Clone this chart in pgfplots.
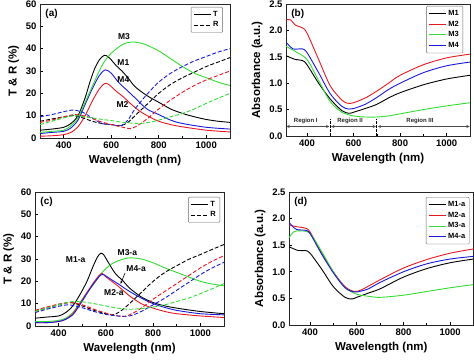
\documentclass[border=0pt]{standalone}
\usepackage{fontspec}
\setmainfont{Liberation Sans}
\usepackage{pgfplots}
\pgfplotsset{compat=1.18}
\usetikzlibrary{arrows.meta}
\definecolor{mred}{RGB}{230,25,35}
\definecolor{mgreen}{RGB}{50,220,50}
\definecolor{mblue}{RGB}{25,25,220}
\tikzset{
 rdash/.style={dash pattern=on 4pt off 2pt},
 lab/.style={font=\bfseries\fontsize{8.5}{9}\selectfont},
 reg/.style={font=\bfseries\fontsize{6}{6.5}\selectfont, black!85},
}
\pgfplotsset{
 panel/.style={
  scale only axis, anchor=south west,
  xmin=300, xmax=1100,
  xtick={400,600,800,1000}, minor xtick={300,500,700,900,1100},
  tick align=inside, xtick pos=bottom, ytick pos=left,
  major tick length=3pt, minor tick length=2pt,
  axis line style={black!85, line width=0.8pt},
  tick style={black, line width=0.6pt},
  ticklabel style={font=\bfseries\fontsize{9.5}{11}\selectfont},
  label style={font=\bfseries\fontsize{11.5}{13}\selectfont},
  xlabel={Wavelength (nm)},
  /pgf/number format/assume math mode=true,
  /pgf/number format/1000 sep={},
  legend style={font=\bfseries\fontsize{7.5}{8}\selectfont, rounded corners=1pt, draw=black!60, inner sep=2pt, row sep=0pt},
  legend cell align=left,
  every axis plot/.append style={line width=0.9pt, smooth, tension=0.5},
 },
 Tpanel/.style={ymin=0, ymax=60, ytick={0,10,...,60}, ylabel={T \& R (\%)}},
 Apanel/.style={ymin=0, ymax=2.5, ytick={0,0.5,...,2.5}, ylabel={Absorbance (a.u.)},
   yticklabel style={/pgf/number format/fixed, /pgf/number format/fixed zerofill, /pgf/number format/precision=1}},
}
\begin{document}
\begin{tikzpicture}
\useasboundingbox (0,0) rectangle (474pt,364pt);
% ---------------- (a)
\begin{axis}[panel, Tpanel, at={(40pt,226pt)}, width=190pt, height=134pt,
  legend style={at={(0.962,0.978)}, anchor=north east}]
\addlegendimage{black, line width=0.9pt}
\addlegendentry{T}
\addlegendimage{black, line width=0.9pt, rdash}
\addlegendentry{R}
% T
\addplot[black, forget plot] coordinates {(300,3.5)(350,4)(400,4.8)(430,6.5)(460,10)(490,18)(510,25)(530,31)(550,35)(570,37)(585,36.5)(600,35)(620,32.5)(645,30)(670,27)(700,23)(750,19)(800,16)(850,13)(900,11)(950,9.5)(1000,8.3)(1050,7.5)(1100,7)};
\addplot[mred, forget plot] coordinates {(300,0.8)(350,1)(400,1.5)(430,2.5)(460,5)(490,10)(520,16.5)(550,22)(575,24.5)(595,23.5)(620,21)(650,18.5)(680,15.5)(720,12)(760,9.5)(800,7.5)(850,6)(900,5)(1000,3.5)(1100,2.7)};
\addplot[mblue, forget plot] coordinates {(300,2)(350,2.5)(400,3)(430,4.5)(460,8)(490,15)(520,22)(550,28)(575,30.5)(600,29)(630,25)(660,22)(700,18)(750,13)(800,10.5)(850,8)(900,6.5)(1000,4.8)(1100,4)};
\addplot[mgreen, forget plot] coordinates {(300,2.5)(350,3)(400,3.5)(430,5.5)(460,9)(490,16)(520,23)(545,29)(570,34)(600,38)(650,42)(690,43)(740,42)(800,39)(850,35.5)(900,32)(950,29)(1000,27)(1050,25)(1100,23.5)};
% R
\addplot[black, rdash, forget plot] coordinates {(300,7.5)(350,8.5)(400,9.5)(440,10)(480,9)(520,7.5)(560,6.5)(600,6)(640,5.5)(670,7)(700,10)(750,15)(800,20)(850,24)(900,27)(950,29.5)(1000,32)(1050,34)(1100,36)};
\addplot[mblue, rdash, forget plot] coordinates {(300,9.5)(350,10.5)(400,11.8)(440,12.5)(480,11.5)(520,9)(560,6.5)(600,6)(640,5.5)(670,8)(700,13)(750,19.5)(800,25)(850,29)(900,32)(950,34.5)(1000,36.5)(1050,38.5)(1100,40)};
\addplot[mred, rdash, forget plot] coordinates {(300,7)(350,8)(400,9.5)(450,10.5)(500,9.5)(550,7.5)(600,6)(650,4.8)(680,4.2)(710,5.5)(750,8.5)(800,13)(850,17)(900,20.5)(950,23.5)(1000,26)(1050,28)(1100,30)};
\addplot[mgreen, rdash, forget plot] coordinates {(300,6)(350,7.5)(400,9)(440,10)(490,9.5)(550,8.5)(600,7.8)(650,7)(720,6.5)(760,7)(800,8)(850,9.5)(900,11)(950,13)(1000,15.5)(1050,17.8)(1100,20)};
\node[lab] at (axis cs:654,45.2) {M3};
\node[lab] at (axis cs:651,33.7) {M1};
\node[lab] at (axis cs:651,26.1) {M4};
\node[lab] at (axis cs:647,14.9) {M2};
\node[font=\bfseries\fontsize{10}{11}\selectfont, anchor=north west] at (rel axis cs:0.01,0.985) {(a)};
\end{axis}
% ---------------- (b)
\begin{axis}[panel, Apanel, xmin=310, at={(286pt,228pt)}, width=184pt, height=132pt,
  legend style={at={(0.962,0.985)}, anchor=north east}]
\addplot[black] coordinates {(310,1.52)(350,1.45)(380,1.43)(400,1.35)(450,1.0)(500,0.7)(550,0.48)(580,0.43)(600,0.45)(650,0.52)(700,0.6)(750,0.72)(800,0.82)(900,0.97)(1000,1.08)(1100,1.15)};
\addlegendentry{M1}
\addplot[mred] coordinates {(310,2.2)(330,2.2)(350,2.1)(380,2.05)(400,1.95)(450,1.45)(500,0.95)(550,0.68)(575,0.62)(600,0.63)(650,0.72)(700,0.85)(750,1.0)(800,1.15)(900,1.35)(1000,1.48)(1100,1.55)};
\addlegendentry{M2}
\addplot[mgreen] coordinates {(310,1.7)(350,1.6)(400,1.45)(450,1.05)(500,0.65)(550,0.45)(600,0.38)(650,0.36)(700,0.36)(750,0.38)(800,0.42)(900,0.5)(1000,0.57)(1100,0.63)};
\addlegendentry{M3}
\addplot[mblue] coordinates {(310,1.78)(340,1.65)(380,1.65)(400,1.58)(450,1.2)(500,0.8)(550,0.56)(580,0.51)(600,0.52)(650,0.6)(700,0.73)(750,0.88)(800,1.0)(900,1.2)(1000,1.33)(1100,1.4)};
\addlegendentry{M4}
\draw[black, dash pattern=on 2.5pt off 1.5pt, line width=0.7pt] (axis cs:500,0) -- (axis cs:500,0.32);
\draw[black, dash pattern=on 2.5pt off 1.5pt, line width=0.7pt] (axis cs:700,0) -- (axis cs:700,0.32);
\draw[black!70, <->, >=stealth, line width=0.5pt] (axis cs:312,0.18) -- (axis cs:496,0.18);
\draw[black!70, <->, >=stealth, line width=0.5pt] (axis cs:504,0.18) -- (axis cs:696,0.18);
\draw[black!70, <->, >=stealth, line width=0.5pt] (axis cs:704,0.18) -- (axis cs:1098,0.18);
\node[reg] at (axis cs:395,0.28) {Region I};
\node[reg] at (axis cs:585,0.28) {Region II};
\node[reg] at (axis cs:885,0.28) {Region III};
\node[font=\bfseries\fontsize{10}{11}\selectfont, anchor=north west] at (rel axis cs:0.01,0.985) {(b)};
\end{axis}
% ---------------- (c)
\begin{axis}[panel, Tpanel, at={(35pt,38pt)}, width=189pt, height=134pt,
  legend style={at={(0.979,0.963)}, anchor=north east}]
\addlegendimage{black, line width=0.9pt}
\addlegendentry{T}
\addlegendimage{black, line width=0.9pt, rdash}
\addlegendentry{R}
\addplot[black, forget plot] coordinates {(300,3.5)(350,4)(400,4.5)(430,6)(460,9)(490,14)(520,20)(545,26.5)(565,31)(578,32.5)(590,32)(610,28.5)(640,23.5)(670,20.5)(700,17)(750,13)(800,10.5)(850,9)(900,8)(1000,6.5)(1100,5.5)};
\addplot[mgreen, forget plot] coordinates {(300,2)(350,2)(400,2.5)(430,3.5)(460,6)(490,10.5)(520,15)(550,19)(580,23.5)(620,27.5)(660,29.5)(700,30.5)(750,30)(800,28.3)(850,26)(900,24)(950,22)(1000,20)(1050,18.8)(1100,18)};
\addplot[mred, forget plot] coordinates {(300,1.5)(350,1.5)(400,2)(430,3)(460,5.5)(490,10)(520,15)(545,19)(570,22.5)(585,23.5)(600,22)(650,18)(700,13.5)(750,10)(800,8)(850,6.5)(900,5.5)(1000,4.5)(1100,3.8)};
\addplot[mblue, forget plot] coordinates {(300,1.5)(350,1.5)(400,2)(430,3)(460,5)(490,9.5)(520,14.5)(545,18.5)(575,22.5)(590,23)(620,21)(650,19)(700,15.5)(750,12.5)(800,10)(850,8.3)(900,7)(1000,5.5)(1100,5)};
\addplot[black, rdash, forget plot] coordinates {(300,6.5)(350,8)(400,9.5)(450,10.5)(500,9)(550,7)(600,5.5)(630,5)(660,6.5)(700,10)(750,15)(800,20)(850,24)(900,27)(950,29.8)(1000,32)(1050,34.3)(1100,36.5)};
\addplot[mred, rdash, forget plot] coordinates {(300,7)(350,8.5)(400,9.8)(450,10.5)(500,9.5)(550,7.5)(600,5.8)(650,4.5)(680,4.3)(710,5.5)(750,8)(800,12)(850,15.5)(900,19)(950,22.5)(1000,26)(1050,29)(1100,31.5)};
\addplot[mblue, rdash, forget plot] coordinates {(300,6)(350,7.5)(400,8.8)(440,9.5)(490,8.5)(550,6.5)(600,5.2)(650,4.5)(700,4.5)(750,6.5)(800,9.5)(850,12.5)(900,16)(950,19.5)(1000,23)(1050,26)(1100,28.5)};
\addplot[mgreen, rdash, forget plot] coordinates {(300,6.5)(350,8)(400,9.5)(460,11)(500,10.8)(550,10)(600,9)(650,8)(700,7.5)(750,7.8)(800,8.5)(850,9.5)(900,11)(950,12.5)(1000,14.5)(1050,16.7)(1100,19)};
\node[lab] at (axis cs:472,29.6) {M1-a};
\node[lab] at (axis cs:691,32.8) {M3-a};
\node[lab] at (axis cs:728,25.6) {M4-a};
\node[lab] at (axis cs:634,14.9) {M2-a};
\draw[black, -{Stealth[length=3pt]}, line width=0.6pt] (axis cs:681,23.7) -- (axis cs:662,18.8);
\node[font=\bfseries\fontsize{10}{11}\selectfont, anchor=north west] at (rel axis cs:0.01,0.985) {(c)};
\end{axis}
% ---------------- (d)
\begin{axis}[panel, Apanel, xmin=310, at={(289pt,39pt)}, width=184.5pt, height=133pt,
  legend style={at={(0.978,0.962)}, anchor=north east}]
\addplot[black] coordinates {(310,1.47)(350,1.4)(380,1.4)(400,1.35)(450,1.05)(500,0.72)(550,0.52)(580,0.49)(600,0.52)(650,0.6)(700,0.68)(800,0.9)(900,1.06)(1000,1.17)(1100,1.24)};
\addlegendentry{M1-a}
\addplot[mred] coordinates {(310,1.88)(340,1.85)(380,1.82)(400,1.75)(450,1.35)(500,1.0)(550,0.72)(590,0.63)(620,0.66)(650,0.73)(700,0.85)(800,1.07)(900,1.23)(1000,1.35)(1100,1.43)};
\addlegendentry{M2-a}
\addplot[mgreen] coordinates {(310,1.64)(330,1.75)(360,1.77)(400,1.72)(450,1.38)(500,1.0)(550,0.7)(600,0.58)(650,0.54)(700,0.52)(800,0.56)(900,0.63)(1000,0.7)(1100,0.76)};
\addlegendentry{M3-a}
\addplot[mblue] coordinates {(310,1.93)(340,1.8)(380,1.78)(400,1.72)(450,1.33)(500,0.98)(550,0.7)(590,0.62)(620,0.64)(650,0.68)(700,0.8)(800,1.0)(900,1.15)(1000,1.24)(1100,1.29)};
\addlegendentry{M4-a}
\node[font=\bfseries\fontsize{10}{11}\selectfont, anchor=north west] at (rel axis cs:0.01,0.985) {(d)};
\end{axis}
\end{tikzpicture}
\end{document}
